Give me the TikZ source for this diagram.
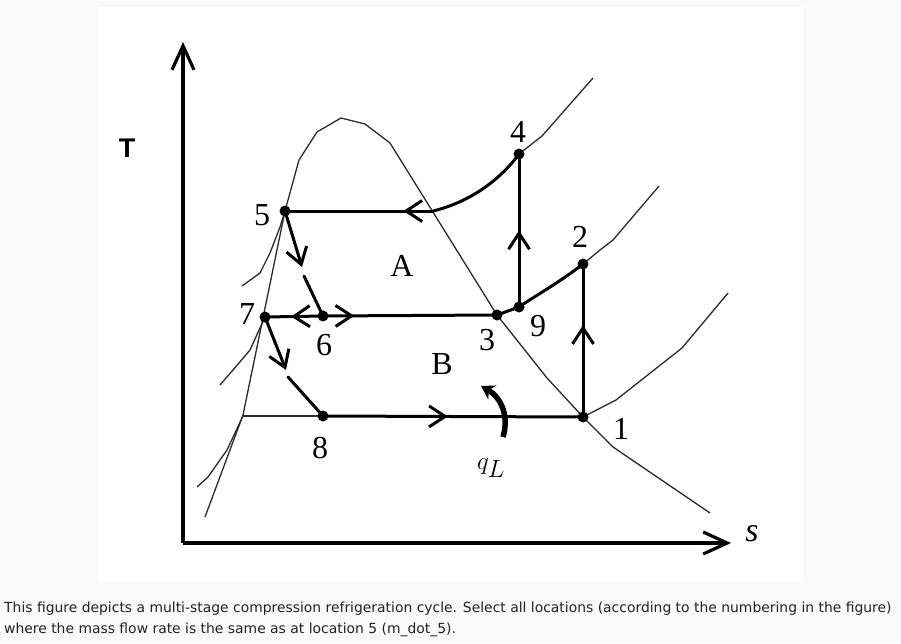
\documentclass[tikz,border=0pt]{standalone}
\usepackage{fontspec}
\setmainfont{Liberation Serif}
\newfontfamily\capfont{DejaVu Sans}
\newfontfamily\axfont{Liberation Sans}
\usetikzlibrary{arrows.meta,decorations.markings}
\definecolor{bggray}{HTML}{F9F9F9}
\definecolor{thinline}{HTML}{2A2A2A}
\definecolor{captext}{HTML}{222222}
\tikzset{
  barb/.tip={Straight Barb[length=16pt,width=21pt]},
  cyc/.style={line width=3pt,line cap=round,line join=round},
  thin/.style={line width=1.3pt,color=thinline,line join=round},
  axis/.style={line width=3.2pt,-{Straight Barb[length=24pt,width=22pt]}},
  pt/.style={circle,fill=black,inner sep=0pt,minimum size=11pt},
  lab/.style={font=\fontsize{32}{32}\selectfont,inner sep=0pt},
  midarrow/.style={postaction={decorate},decoration={markings,mark=at position #1 with {\arrow{barb}}}}
}
\begin{document}
\begin{tikzpicture}[x=1pt,y=-1pt]
\useasboundingbox (0,0) rectangle (901,643);
\fill[bggray] (0,0) rectangle (901,643);
\fill[white] (98,7) rectangle (803,583);
% axes
\coordinate (O) at (183,543);
\coordinate (Ttip) at (183,42);
\coordinate (Stip) at (731,543);
\draw[axis] (O) -- (Ttip);
\draw[axis] (O) -- (Stip);
\node[font=\axfont\bfseries\fontsize{27}{27}\selectfont,inner sep=0pt] (Tlab) at (127,148) {T};
\node[lab,font=\itshape\fontsize{34}{34}\selectfont] (slab) at (752,534) {s};
% saturation dome
\draw[thin] (205,517) -- (243,415) -- (285,211) -- (299,160) -- (317,132) -- (341,118) -- (365,124) -- (390,143) -- (497,315) -- (547,378) -- (583,417) -- (613,447) -- (710,513);
% state points
\coordinate (p1) at (583,417);
\coordinate (p2) at (583,264);
\coordinate (p3) at (497,315);
\coordinate (p4) at (519,154);
\coordinate (p5) at (285,211);
\coordinate (p6) at (323,316);
\coordinate (p7) at (265,317);
\coordinate (p8) at (323,416);
\coordinate (p9) at (519,307);
\coordinate (hp) at (433,211);
\coordinate (lp) at (243,416);
% isobars (thin)
\draw[thin] (242,286) -- (260,273) -- (270,253) -- (280,227) -- (p5);
\draw[thin] (p4) -- (542,136) -- (593,78);
\draw[thin] (220,385) -- (233,370) -- (250,350) -- (p7);
\draw[thin] (p2) -- (600,250) -- (613,240) -- (659,186);
\draw[thin] (197,487) -- (208,477) -- (227,450) -- (lp);
\draw[thin] (lp) -- (p8);
\draw[thin] (p1) -- (616,400) -- (682,348) -- (728,293);
% cycle
\draw[cyc] (p4) .. controls (500,180) and (470,202) .. (hp);
\draw[cyc,midarrow=0.2] (hp) -- (p5);
\coordinate (t5a) at (302,267);
\coordinate (t5b) at (304,276);
\draw[cyc,-barb] (p5) -- (t5a);
\draw[cyc] (t5b) -- (p6);
\draw[cyc,midarrow=0.55] (p6) -- (p7);
\draw[cyc,midarrow=0.18] (p6) -- (p3);
\coordinate (t7a) at (286,370);
\coordinate (t7b) at (288,377);
\draw[cyc,-barb] (p7) -- (t7a);
\draw[cyc] (t7b) -- (p8);
\draw[cyc,midarrow=0.48] (p8) -- (p1);
\draw[cyc,midarrow=0.6] (p1) -- (p2);
\draw[cyc] (p3) -- (p9) .. controls (535,296) and (560,282) .. (p2);
\draw[cyc,midarrow=0.5] (p9) -- (p4);
% heat arrow
\coordinate (qa) at (503,437);
\coordinate (qb) at (481,386);
\draw[line width=5.5pt,-{Stealth[length=13pt,width=16pt]}] (qa) .. controls (509,417) and (502,398) .. (qb);
% dots
\foreach \p in {p1,p2,p3,p4,p5,p6,p7,p8,p9} \node[pt] at (\p) {};
% labels
\node[lab] (l1) at (621,429) {1};
\node[lab] (l2) at (580,237) {2};
\node[lab] (l3) at (487,340) {3};
\node[lab] (l4) at (518,132) {4};
\node[lab] (l5) at (262,215) {5};
\node[lab] (l6) at (324,345) {6};
\node[lab] (l7) at (247,314) {7};
\node[lab] (l8) at (320,448) {8};
\node[lab] (l9) at (538,326) {9};
\node[lab] (lA) at (402,266) {A};
\node[lab] (lB) at (442,364) {B};
\node[inner sep=0pt] (lq) at (491,468) {\fontsize{33}{33}\selectfont$q_L$};
% caption
\node[anchor=base west,inner sep=0pt,text=captext,font=\capfont\fontsize{13.9}{13.9}\selectfont] (c1) at (4,612) {This figure depicts a multi-stage compression refrigeration cycle. Select all locations (according to the numbering in the figure)};
\node[anchor=base west,inner sep=0pt,text=captext,font=\capfont\fontsize{13.9}{13.9}\selectfont] (c2) at (4,633) {where the mass flow rate is the same as at location 5 (m\_dot\_5).};
\end{tikzpicture}
\end{document}
